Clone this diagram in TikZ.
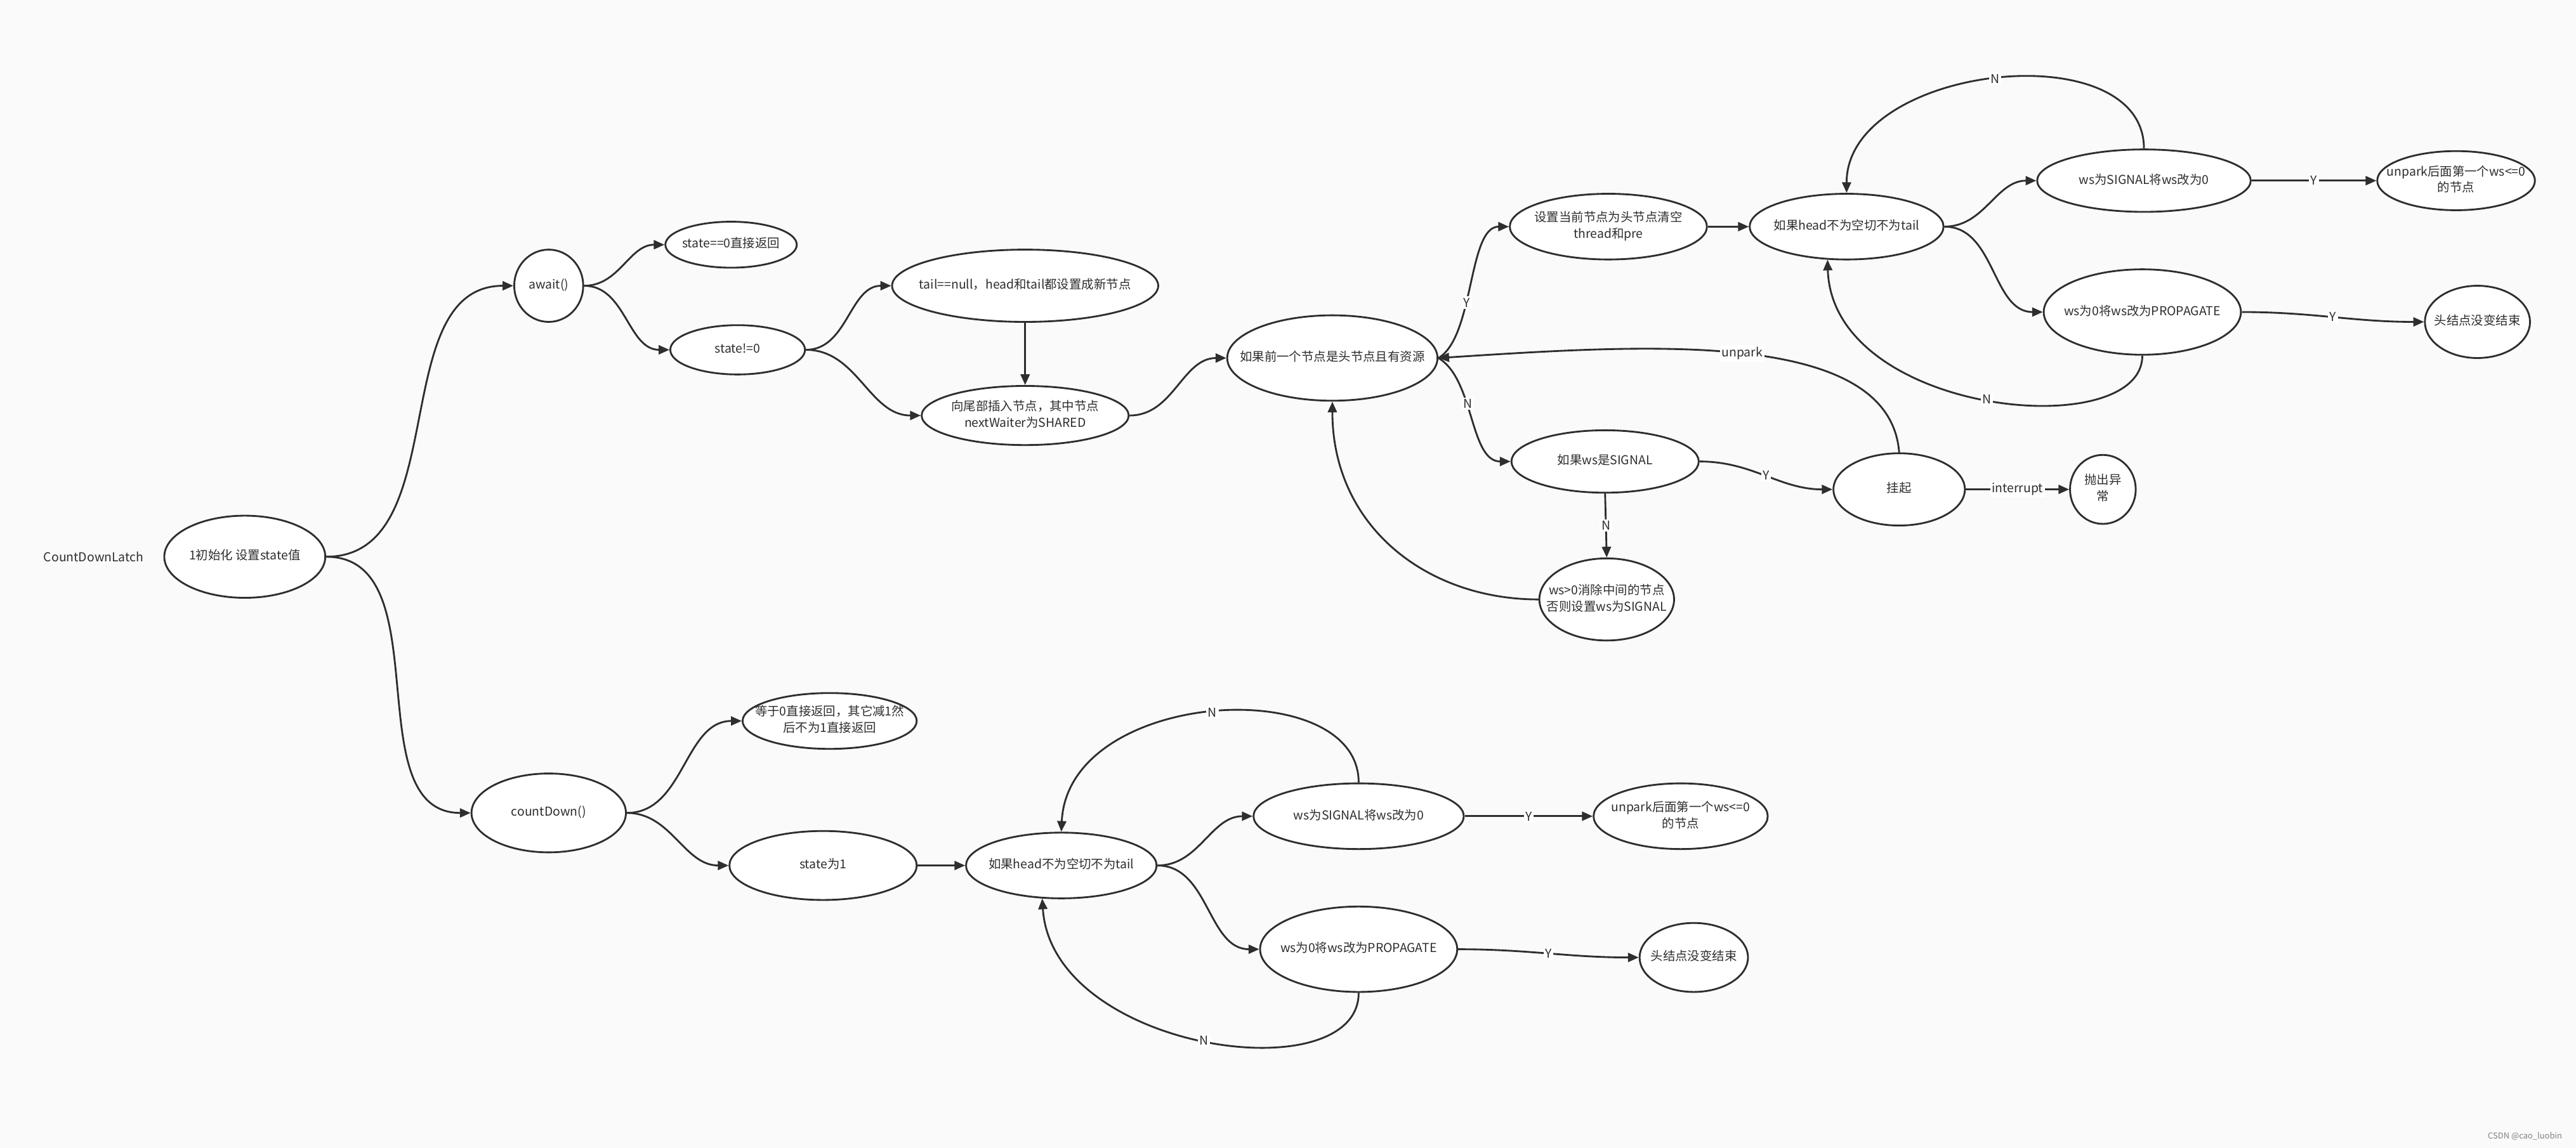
\documentclass[tikz,border=0pt]{standalone}
\usepackage{fontspec}
\setmainfont{Noto Sans CJK SC}
\usepackage{tikz}
\usetikzlibrary{arrows.meta}
\usetikzlibrary{shapes.geometric}
\definecolor{ink}{HTML}{2E2E2E}
\definecolor{paper}{HTML}{FAFAFA}
\newcommand{\ctr}[1]{\makebox[0pt]{\begin{tabular}{@{}c@{}}#1\end{tabular}}}

\begin{document}
\begin{tikzpicture}[x=1pt,y=1pt,
		font=\fontsize{7.5}{10}\selectfont, text=ink,
		stnode/.style={ellipse, draw=ink, fill=white, line width=1.1pt, inner sep=0pt},
		flow/.style={draw=ink, line width=1.1pt, -{Triangle[length=6.5pt,width=5.5pt]}},
		yn/.style={fill=white, inner sep=1pt, text=ink}]
		
		% Background and frame
		\fill[paper] (0,0) rectangle (1568,-699);
		\useasboundingbox (0,0) rectangle (1568,-699);
		
		% Title
		\node (title) at (57,-339) {CountDownLatch};
		
		% Start
		\node[stnode, minimum width=98pt, minimum height=50pt] (init) at (149,-339) {\ctr{1初始化 设置state值}};
		
		% await() branch
		\node[stnode, minimum width=42pt, minimum height=44pt] (await) at (334,-174) {\ctr{await()}};
		\node[stnode, minimum width=80pt, minimum height=28pt] (ret0) at (445,-149) {\ctr{state==0直接返回}};
		\node[stnode, minimum width=82pt, minimum height=30pt] (neq0) at (449,-213) {\ctr{state!=0}};
		\node[stnode, minimum width=162pt, minimum height=44pt] (tailnull) at (624,-174) {\ctr{tail==null，head和tail都设置成新节点}};
		\node[stnode, minimum width=126pt, minimum height=36pt] (enq) at (624,-253) {\ctr{向尾部插入节点，其中节点\\nextWaiter为SHARED}};
		\node[stnode, minimum width=128pt, minimum height=52pt] (pre) at (811,-218) {\ctr{如果前一个节点是头节点且有资源}};
		\node[stnode, minimum width=120pt, minimum height=40pt] (sethead) at (979,-138) {\ctr{设置当前节点为头节点清空\\thread和pre}};
		\node[stnode, minimum width=118pt, minimum height=40pt] (head1) at (1124,-138) {\ctr{如果head不为空切不为tail}};
		\node[stnode, minimum width=130pt, minimum height=38pt] (sig1) at (1305,-110) {\ctr{ws为SIGNAL将ws改为0}};
		\node[stnode, minimum width=96pt, minimum height=36pt] (unp1) at (1495,-110) {\ctr{unpark后面第一个ws<=0\\的节点}};
		\node[stnode, minimum width=120pt, minimum height=52pt] (prop1) at (1304,-190) {\ctr{ws为0将ws改为PROPAGATE}};
		\node[stnode, minimum width=64pt, minimum height=44pt] (end1) at (1508,-196) {\ctr{头结点没变结束}};
		\node[stnode, minimum width=114pt, minimum height=38pt] (wssig) at (977,-281) {\ctr{如果ws是SIGNAL}};
		\node[stnode, minimum width=82pt, minimum height=50pt] (clean) at (978,-365) {\ctr{ws>0消除中间的节点\\否则设置ws为SIGNAL}};
		\node[stnode, minimum width=80pt, minimum height=44pt] (park) at (1156,-298) {\ctr{挂起}};
		\node[stnode, minimum width=40pt, minimum height=42pt] (thr) at (1280,-298) {\ctr{抛出异\\常}};
		
		% countDown() branch
		\node[stnode, minimum width=94pt, minimum height=48pt] (cdown) at (334,-495) {\ctr{countDown()}};
		\node[stnode, minimum width=106pt, minimum height=34pt] (cdret) at (505,-439) {\ctr{等于0直接返回，其它减1然\\后不为1直接返回}};
		\node[stnode, minimum width=114pt, minimum height=42pt] (st1) at (501,-527) {\ctr{state为1}};
		\node[stnode, minimum width=116pt, minimum height=40pt] (head2) at (646,-527) {\ctr{如果head不为空切不为tail}};
		\node[stnode, minimum width=128pt, minimum height=40pt] (sig2) at (827,-497) {\ctr{ws为SIGNAL将ws改为0}};
		\node[stnode, minimum width=106pt, minimum height=40pt] (unp2) at (1023,-497) {\ctr{unpark后面第一个ws<=0\\的节点}};
		\node[stnode, minimum width=120pt, minimum height=52pt] (prop2) at (827,-578) {\ctr{ws为0将ws改为PROPAGATE}};
		\node[stnode, minimum width=66pt, minimum height=42pt] (end2) at (1031,-583) {\ctr{头结点没变结束}};
		
		% Watermark
		\node[text=gray, font=\fontsize{5}{6}\selectfont, anchor=east] (mark) at (1563,-692) {CSDN @cao\_luobin};
		
		% Connectors of the await() branch
		\draw[flow] (init.east) to[out=0,in=180] (await.west);
		\draw[flow] (await.east) to[out=0,in=180] (ret0.west);
		\draw[flow] (await.east) to[out=0,in=180] (neq0.west);
		\draw[flow] (neq0.east) to[out=0,in=180] (tailnull.west);
		\draw[flow] (neq0.east) to[out=0,in=180] (enq.west);
		\draw[flow] (tailnull.south) -- (enq.north);
		\draw[flow] (enq.east) to[out=0,in=180] (pre.west);
		\draw[flow] (pre.east) .. controls +(22,13) and +(-25,0) .. node[yn, pos=0.4] {Y} (sethead.west);
		\draw[flow] (pre.east) .. controls +(22,-13) and +(-25,0) .. node[yn, pos=0.4] {N} (wssig.west);
		\draw[flow] (sethead.east) -- (head1.west);
		\draw[flow] (head1.east) to[out=0,in=180] (sig1.west);
		\draw[flow] (head1.east) to[out=0,in=180] (prop1.west);
		\draw[flow] (sig1.east) to[out=0,in=180] node[yn] {Y} (unp1.west);
		\draw[flow] (prop1.east) to[out=0,in=180] node[yn] {Y} (end1.west);
		\draw[flow] (sig1.north) .. controls +(0,71) and +(0,78) .. node[yn] {N} (head1.north);
		\draw[flow] (prop1.south) .. controls +(0,-54) and +(3,-95) .. node[yn] {N} (head1.-120);
		\draw[flow] (wssig.east) to[out=0,in=180] node[yn] {Y} (park.west);
		\draw[flow] (wssig.south) -- node[yn] {N} (clean.north);
		\draw[flow] (clean.west) .. controls +(-68,0) and +(0,-76) .. (pre.south);
		\draw[flow] (park.north) .. controls +(-6,76) and +(125,8) .. node[yn] {unpark} (pre.east);
		\draw[flow] (park.east) -- node[yn] {interrupt} (thr.west);
		
		% Connectors of the countDown() branch
		\draw[flow] (init.east) to[out=0,in=180] (cdown.west);
		\draw[flow] (cdown.east) to[out=0,in=180] (cdret.west);
		\draw[flow] (cdown.east) to[out=0,in=180] (st1.west);
		\draw[flow] (st1.east) -- (head2.west);
		\draw[flow] (head2.east) to[out=0,in=180] (sig2.west);
		\draw[flow] (head2.east) to[out=0,in=180] (prop2.west);
		\draw[flow] (sig2.east) to[out=0,in=180] node[yn] {Y} (unp2.west);
		\draw[flow] (prop2.east) to[out=0,in=180] node[yn] {Y} (end2.west);
		\draw[flow] (sig2.north) .. controls +(0,67) and +(4,87) .. node[yn] {N} (head2.north);
		\draw[flow] (prop2.south) .. controls +(0,-61) and +(6,-93) .. node[yn] {N} (head2.-120);
		
	\end{tikzpicture}
\end{document}
